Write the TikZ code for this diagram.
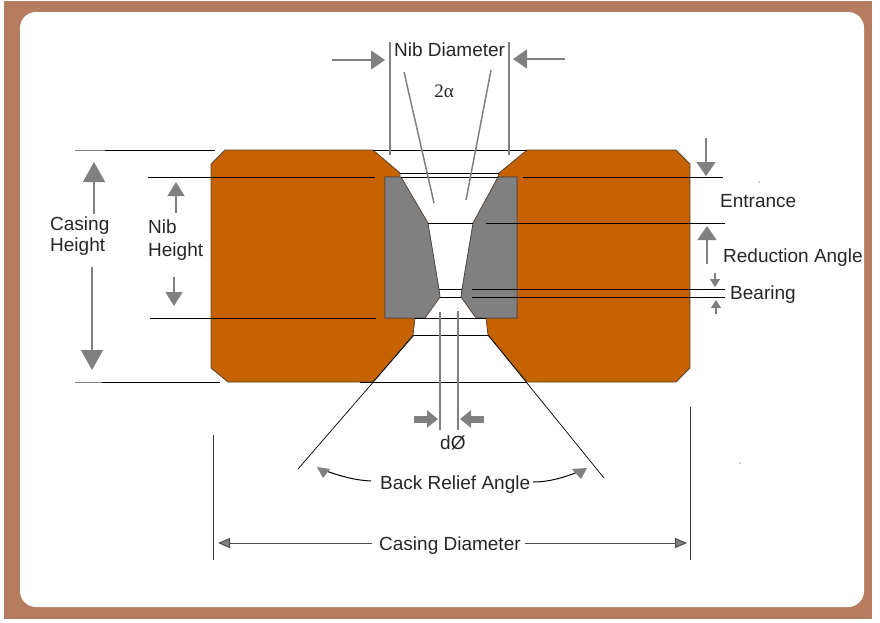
\documentclass[tikz,border=0pt]{standalone}
\usepackage{fontspec}
\setmainfont{Liberation Sans}
\newfontfamily\alphafont{Liberation Serif}
\usetikzlibrary{calc}
\usetikzlibrary{arrows.meta}

\definecolor{framebrown}{RGB}{181,124,95}
\definecolor{casebrown}{RGB}{198,98,0}
\definecolor{nibgray}{RGB}{128,128,128}
\definecolor{edgedark}{RGB}{85,70,60}

\tikzset{
  label/.style={font=\fontsize{19}{21}\selectfont,text=black!85,inner sep=0pt},
  baselabel/.style={label,anchor=base west},
  casing/.style={fill=casebrown,draw=edgedark,line width=0.8pt},
  nib/.style={fill=nibgray,draw=edgedark,line width=0.8pt},
  dimline/.style={black,line width=1pt},
  greyline/.style={nibgray,line width=1.5pt},
  bigarrow/.style={greyline,-{Triangle[length=20pt,width=22pt,fill=nibgray]}},
  midarrow/.style={greyline,-{Triangle[length=14pt,width=19pt,fill=nibgray]}},
  nibarrow/.style={greyline,-{Triangle[length=14pt,width=17pt,fill=nibgray]}},
  smallarrow/.style={greyline,-{Triangle[length=8pt,width=10pt,fill=nibgray]}},
  fatarrow/.style={nibgray,line width=7pt,-{Triangle[length=11pt,width=17pt]}},
  widearrow/.style={black!70,line width=1pt,-{Triangle[length=12pt,width=10pt,fill=nibgray]}}
}

\begin{document}
\begin{tikzpicture}[x=1pt,y=-1pt]

\useasboundingbox (0,0) rectangle (880,622);

% frame
\fill[framebrown] (4,1) rectangle (872,619);
\fill[white,rounded corners=16pt] (20,12) rectangle (864,607);

% casing, both halves
\draw[casing] (225,150) -- (373,150) -- (400,173) -- (400,177) -- (385,177) -- (385,318)
  -- (415,318) -- (413,335) -- (373,382) -- (228,382) -- (211,368) -- (211,164) -- cycle;
\draw[casing] (676,150) -- (527,150) -- (499,173) -- (498,177) -- (517,177) -- (517,318)
  -- (486,318) -- (488,335) -- (527,382) -- (676,382) -- (690,368) -- (690,164) -- cycle;

% nib
\draw[nib] (385,177) -- (401,177) -- (428,223) -- (439,289) -- (440,297) -- (425,318) -- (385,318) -- cycle;
\draw[nib] (517,177) -- (498,177) -- (473,223) -- (462,289) -- (461,297) -- (476,318) -- (517,318) -- cycle;

% levels across the opening
\draw[dimline] (373,150) -- (527,150);
\draw[dimline] (400,173) -- (499,173);
\draw[dimline] (401,177) -- (498,177);
\draw[dimline] (428,223) -- (473,223);
\draw[dimline] (439,289) -- (462,289);
\draw[dimline] (440,297) -- (461,297);
\draw[dimline] (415,318) -- (486,318);
\draw[dimline] (413,335) -- (488,335);
\draw[dimline] (360,382) -- (527,382);

% extension lines
\draw[nibgray,line width=1pt] (75,150) -- (105,150);
\draw[dimline] (105,150) -- (215,150);
\draw[dimline] (148,177) -- (375,177);
\draw[dimline] (150,318) -- (376,318);
\draw[nibgray,line width=1pt] (75,382) -- (102,382);
\draw[dimline] (102,382) -- (220,382);
\draw[dimline] (523,177) -- (723,177);
\draw[dimline] (486,223) -- (725,223);
\draw[dimline] (472,289) -- (725,289);
\draw[dimline] (472,297) -- (725,297);
\draw[black!80,line width=1pt] (213,435) -- (213,560);
\draw[black!80,line width=1pt] (690,407) -- (690,560);

% lines of the angles
\draw[greyline] (390,42) -- (390,155);
\draw[greyline] (509,42) -- (509,155);
\draw[greyline] (404,72) -- (434,203);
\draw[greyline] (491,70) -- (466,200);
\draw[greyline,line width=2pt] (440,312) -- (440,430);
\draw[greyline,line width=2pt] (458,311) -- (458,430);
\draw[black,line width=0.7pt] (414,335) -- (298,469);
\draw[black,line width=0.7pt] (488,335) -- (604,478);

% labels
\node[baselabel] (nibdia) at (394,56) {Nib Diameter};
\node[label,font=\fontsize{19}{21}\selectfont\alphafont] (alpha) at (444,91) {2α};
\node[baselabel] (entrance) at (720,207) {Entrance};
\node[baselabel] (reduction) at (723,262) {Reduction Angle};
\node[baselabel] (bearing) at (730,299) {Bearing};
\node[label,align=left,anchor=west] (casheight) at (50,236) {Casing\\Height};
\node[label,align=left,anchor=west] (nibheight) at (148,240) {Nib\\[2pt]Height};
\node[baselabel] (dnib) at (440,449) {dØ};
\node[baselabel] (backrelief) at (380,489) {Back Relief Angle};
\node[baselabel] (casdia) at (379,550) {Casing Diameter};

\coordinate (casdiaL) at (372,543);
\coordinate (casdiaR) at (525,543);
\coordinate (reliefL) at (371,481);
\coordinate (reliefR) at (533,482);

% arrows
\draw[midarrow] (332,60) -- (385,60);
\draw[midarrow] (565,59) -- (513,59);
\draw[midarrow] (706,138) -- (706,176);
\draw[midarrow] (707,264) -- (707,226);
\draw[smallarrow] (715,273) -- (715,287);
\draw[smallarrow] (716,314) -- (716,300);
\draw[bigarrow] (94,214) -- (94,162);
\draw[bigarrow] (92,267) -- (92,370);
\draw[nibarrow] (176,213) -- (176,182);
\draw[nibarrow] (174,277) -- (174,306);
\draw[fatarrow] (414,419) -- (438,419);
\draw[fatarrow] (484,419) -- (460,419);
\draw[widearrow] (casdiaL) -- (218,543);
\draw[widearrow] (casdiaR) -- (687,543);

% back relief arrows
\draw[black,line width=1pt] (reliefL) .. controls (352,480) and (338,475) .. (326,471);
\draw[black,line width=1pt] (reliefR) .. controls (550,482) and (565,477) .. (578,472);
\fill[nibgray] (317,467) -- (330,469) -- (323,478) -- cycle;
\fill[nibgray] (572,469) -- (587,468) -- (581,479) -- cycle;

% specks
\fill[black!70] (759,182) circle (0.6);
\fill[black!70] (740,463) circle (0.6);

\end{tikzpicture}
\end{document}
